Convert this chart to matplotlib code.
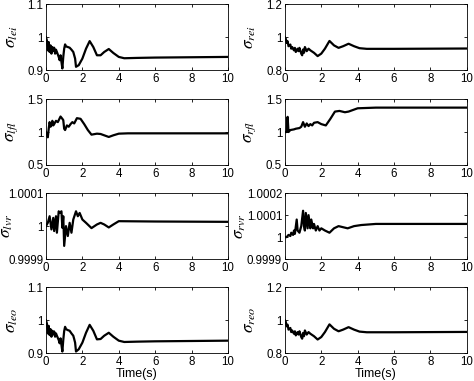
import matplotlib
matplotlib.use("Agg")
import matplotlib.pyplot as plt
import numpy as np

plt.rcParams['font.family'] = ['Liberation Sans', 'DejaVu Sans']
plt.rcParams['mathtext.fontset'] = 'stix'

# time / value points
t_lei = [0, 0.05, 0.1, 0.15, 0.2, 0.25, 0.3, 0.35, 0.4, 0.45, 0.5, 0.55, 0.6, 0.7, 0.75, 0.8, 0.85, 0.9,
         0.95, 1.0, 1.05, 1.1, 1.2, 1.3, 1.4, 1.5, 1.55, 1.6, 1.65, 1.8, 2.0, 2.2, 2.4, 2.6, 2.8, 3.0,
         3.2, 3.45, 3.7, 4.0, 4.3, 5.0, 6.0, 8.0, 10.0]
v_lei = [1.0, 0.99, 0.96, 0.985, 0.955, 0.975, 0.95, 0.97, 0.958, 0.968, 0.95, 0.962, 0.955, 0.94, 0.93,
         0.945, 0.925, 0.905, 0.94, 0.965, 0.978, 0.972, 0.97, 0.968, 0.962, 0.955, 0.945, 0.935, 0.91,
         0.915, 0.935, 0.965, 0.988, 0.97, 0.945, 0.945, 0.955, 0.964, 0.952, 0.94, 0.936, 0.937, 0.938,
         0.939, 0.94]

t_rei = [0, 0.05, 0.1, 0.15, 0.2, 0.3, 0.35, 0.4, 0.5, 0.55, 0.6, 0.7, 0.75, 0.8, 0.9, 0.95, 1.0, 1.05,
         1.1, 1.2, 1.3, 1.4, 1.6, 1.8, 2.0, 2.2, 2.45, 2.7, 2.95, 3.2, 3.5, 3.8, 4.1, 4.5, 6.0, 8.0, 10.0]
v_rei = [1.0, 0.99, 0.965, 0.975, 0.945, 0.955, 0.93, 0.94, 0.92, 0.935, 0.91, 0.93, 0.915, 0.935, 0.9,
         0.89, 0.925, 0.905, 0.94, 0.915, 0.93, 0.92, 0.905, 0.885, 0.9, 0.93, 0.977, 0.95, 0.935, 0.945,
         0.96, 0.945, 0.933, 0.929, 0.929, 0.93, 0.931]

t_lfl = [0, 0.05, 0.1, 0.15, 0.2, 0.25, 0.3, 0.35, 0.4, 0.45, 0.55, 0.65, 0.8, 0.9, 0.95, 1.0, 1.05,
         1.15, 1.25, 1.35, 1.45, 1.55, 1.7, 1.9, 2.1, 2.3, 2.5, 2.8, 3.0, 3.2, 3.45, 3.7, 4.0, 4.5, 6.0,
         8.0, 10.0]
v_lfl = [1.0, 0.98, 0.92, 1.05, 1.15, 1.08, 1.1, 1.17, 1.1, 1.12, 1.17, 1.15, 1.235, 1.2, 1.18, 1.05,
         1.03, 1.1, 1.08, 1.12, 1.15, 1.13, 1.21, 1.2, 1.12, 1.03, 0.96, 0.975, 0.97, 0.95, 0.925, 0.95,
         0.975, 0.98, 0.98, 0.98, 0.98]

t_rfl = [0, 0.1, 0.15, 0.2, 0.3, 0.5, 0.6, 0.8, 0.9, 1.0, 1.1, 1.2, 1.3, 1.4, 1.5, 1.6, 1.8, 2.0, 2.25,
         2.5, 2.75, 3.0, 3.3, 3.5, 4.0, 5.0, 10.0]
v_rfl = [1.0, 1.0, 1.23, 1.0, 1.03, 1.04, 1.05, 1.06, 1.08, 1.15, 1.08, 1.13, 1.09, 1.12, 1.1, 1.14,
         1.15, 1.12, 1.1, 1.2, 1.31, 1.32, 1.3, 1.31, 1.36, 1.37, 1.37]

t_lvr = [0, 0.1, 0.2, 0.3, 0.4, 0.45, 0.55, 0.6, 0.7, 0.75, 0.85, 0.9, 0.95, 1.0, 1.1, 1.2, 1.3, 1.4,
         1.5, 1.65, 1.75, 1.85, 2.0, 2.2, 2.5, 2.8, 3.0, 3.2, 3.45, 3.7, 4.0, 6.0, 10.0]
v_lvr = [1.0, 1.00001, 1.00003, 0.99999, 1.000025, 0.999985, 1.00003, 0.99998, 1.000045, 1.00004,
         1.000045, 0.999995, 1.00003, 0.99994, 1.0, 0.99997, 1.00001, 0.99998, 1.00002, 1.000045,
         1.00003, 1.00004, 1.00002, 1.00001, 0.999994, 1.000005, 1.00001, 1.000005, 0.999996, 1.000005,
         1.000015, 1.000014, 1.000013]

t_rvr = [0, 0.1, 0.2, 0.3, 0.35, 0.45, 0.5, 0.55, 0.65, 0.7, 0.8, 0.9, 1.0, 1.05, 1.1, 1.15, 1.25, 1.3,
         1.4, 1.45, 1.55, 1.6, 1.7, 1.8, 1.9, 2.0, 2.2, 2.45, 2.7, 2.95, 3.2, 3.45, 3.8, 4.2, 5.0, 10.0]
v_rvr = [1.0, 1.0, 1.00001, 1.000005, 1.00002, 1.00001, 1.00003, 1.000015, 1.00008, 1.00003, 1.00002,
         1.00005, 1.00012, 1.00005, 1.00003, 1.00011, 1.00004, 1.0001, 1.00004, 1.00008, 1.00004,
         1.00006, 1.00003, 1.00005, 1.00003, 1.00004, 1.00003, 1.00002, 1.00004, 1.00005, 1.000045,
         1.00004, 1.00005, 1.000055, 1.00006, 1.00006]

t_leo = t_lei
v_leo = [1.0, 0.99, 0.96, 0.983, 0.955, 0.973, 0.95, 0.968, 0.957, 0.966, 0.95, 0.96, 0.953, 0.94, 0.93,
         0.945, 0.925, 0.905, 0.94, 0.967, 0.98, 0.973, 0.97, 0.968, 0.96, 0.953, 0.943, 0.932, 0.905,
         0.912, 0.932, 0.962, 0.986, 0.968, 0.942, 0.943, 0.953, 0.962, 0.95, 0.938, 0.934, 0.935, 0.936,
         0.937, 0.938]

t_reo = t_rei
v_reo = [1.0, 0.99, 0.963, 0.973, 0.943, 0.953, 0.928, 0.938, 0.918, 0.933, 0.908, 0.928, 0.913, 0.933,
         0.898, 0.888, 0.923, 0.903, 0.938, 0.913, 0.928, 0.918, 0.903, 0.883, 0.898, 0.928, 0.975, 0.948,
         0.933, 0.943, 0.958, 0.943, 0.931, 0.927, 0.927, 0.928, 0.929]

series = [
    (t_lei, v_lei, r'$\sigma_{lei}$', [0.9, 1.0, 1.1], ['0.9', '1', '1.1']),
    (t_rei, v_rei, r'$\sigma_{rei}$', [0.8, 1.0, 1.2], ['0.8', '1', '1.2']),
    (t_lfl, v_lfl, r'$\sigma_{lfl}$', [0.5, 1.0, 1.5], ['0.5', '1', '1.5']),
    (t_rfl, v_rfl, r'$\sigma_{rfl}$', [0.5, 1.0, 1.5], ['0.5', '1', '1.5']),
    (t_lvr, v_lvr, r'$\sigma_{lvr}$', [0.9999, 1.0, 1.0001], ['0.9999', '1', '1.0001']),
    (t_rvr, v_rvr, r'$\sigma_{rvr}$', [0.9999, 1.0, 1.0001, 1.0002], ['0.9999', '1', '1.0001', '1.0002']),
    (t_leo, v_leo, r'$\sigma_{leo}$', [0.9, 1.0, 1.1], ['0.9', '1', '1.1']),
    (t_reo, v_reo, r'$\sigma_{reo}$', [0.8, 1.0, 1.2], ['0.8', '1', '1.2']),
]

fig = plt.figure(figsize=(4.74, 3.81), dpi=100)
lefts = [0.097, 0.601]
bottoms = [0.816, 0.567, 0.320, 0.073]
w, h = 0.384, 0.173

for i, (t, v, lab, yt, ytl) in enumerate(series):
    row, col = divmod(i, 2)
    ax = fig.add_axes([lefts[col], bottoms[row], w, h])
    ax.plot(t, v, color='black', lw=1.6)
    ax.set_xlim(0, 10)
    ax.set_ylim(yt[0], yt[-1])
    ax.set_xticks([0, 2, 4, 6, 8, 10])
    ax.set_yticks(yt)
    ax.set_yticklabels(ytl)
    ax.tick_params(direction='in', top=True, right=True, labelsize=8.3, length=2.5, width=0.6, pad=2)
    for s in ax.spines.values():
        s.set_linewidth(0.6)
    ax.set_ylabel(lab, fontsize=12.5)
    # the long 0.9999 / 1.0001 labels push sigma further left
    if row == 2:
        ax.yaxis.set_label_coords(-0.17 if col == 0 else -0.2, 0.5)
    else:
        ax.yaxis.set_label_coords(-0.145, 0.5)
    if row == 3:
        ax.set_xlabel('Time(s)', fontsize=9, labelpad=0)

fig.savefig('out.png', dpi=100)
